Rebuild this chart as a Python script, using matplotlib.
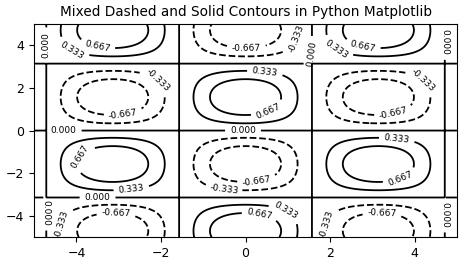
import numpy as np
import matplotlib.pyplot as plt

# grid and contour levels
x = np.arange(-5, 5.01, 0.025)
y = np.arange(-5, 5.01, 0.025)
levels = [-2/3, -1/3, 0, 1/3, 2/3]

# where the contour labels sit
label_spots = [
    (-4.71, 4.0), (-4.1, 3.77), (-3.5, 4.0),
    (0.02, 3.93), (1.21, 4.3), (1.57, 3.6),
    (2.16, 3.86), (2.79, 4.1), (4.71, 4.16),
    (-2.9, 0.82), (-2.05, 2.45), (0.46, 2.76), (0.53, 0.97),
    (4.2, 2.37), (3.5, 0.82),
    (-4.3, 0.0), (-0.06, 0.0),
    (-3.98, -1.14), (-2.7, -2.74), (0.26, -2.3), (-0.49, -2.74),
    (3.58, -0.38), (3.67, -2.3),
    (-3.5, -3.14), (-4.71, -3.85), (-4.41, -4.4), (-3.06, -3.78),
    (0.34, -3.86), (0.97, -3.7),
    (1.88, -4.4), (3.23, -3.83), (4.71, -3.94),
]

X, Y = np.meshgrid(x, y)
Z = np.cos(X) * np.sin(Y)

fig = plt.figure(figsize=(4.74, 2.67), dpi=100)
ax = fig.add_axes([0.072, 0.112, 0.892, 0.798])

cs = ax.contour(X, Y, Z, levels=levels, colors='k', linewidths=1.3)
ax.clabel(cs, inline=True, fontsize=6.5, fmt='%1.3f', manual=label_spots)

ax.set_title('Mixed Dashed and Solid Contours in Python Matplotlib', fontsize=9.8)
ax.tick_params(labelsize=9)
ax.set_xticks([-4, -2, 0, 2, 4])
ax.set_yticks([-4, -2, 0, 2, 4])

fig.savefig('out.png', dpi=100)
